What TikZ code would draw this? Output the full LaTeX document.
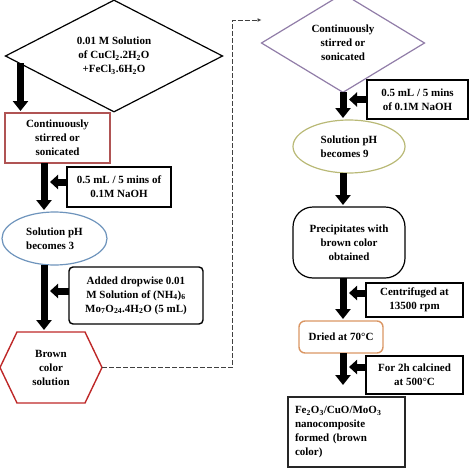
\documentclass[tikz,border=0pt]{standalone}
\usepackage{fontspec}
\setmainfont{Liberation Serif}
\usepackage{tikz}
\usetikzlibrary{shapes,shapes.geometric,arrows.meta,calc,positioning}
\usepackage{xcolor}
\definecolor{brickline}{RGB}{176,84,84}
\definecolor{steelline}{RGB}{110,148,188}
\definecolor{hexred}{RGB}{190,40,40}
\definecolor{lilacline}{RGB}{145,125,168}
\definecolor{khakiline}{RGB}{185,185,118}
\definecolor{orangeline}{RGB}{218,150,100}

\begin{document}
\begin{tikzpicture}[x=1pt,y=-1pt,
	  every node/.style={align=center,font=\bfseries\fontsize{11}{14}\selectfont,inner sep=0pt,outer sep=0pt},
	  source/.style={diamond,draw=black,line width=1.2pt,minimum width=217pt,minimum height=102pt},
	  stirbox/.style={rectangle,draw=brickline,line width=1.2pt,minimum width=105pt,minimum height=50pt},
	  reagent/.style={rectangle,draw=black,line width=1.4pt},
	  phoval/.style={ellipse,line width=1.2pt,align=left,minimum width=105pt,minimum height=53pt},
	  hexnode/.style={minimum width=102pt,minimum height=71pt},
	  hexline/.style={draw=hexred,line width=1.4pt},
	  precipbox/.style={rectangle,rounded corners=20pt,draw=black,line width=1.2pt,minimum width=112pt,minimum height=71pt},
	  driedbox/.style={rectangle,rounded corners=6pt,draw=orangeline,line width=1.4pt,minimum width=84pt,minimum height=32pt},
	  productbox/.style={rectangle,draw=black!85,line width=1.4pt,align=left,text width=103pt,inner xsep=7pt,minimum height=70pt},
	  fat/.style={line width=7pt,-{Triangle[length=10pt,width=15pt]},shorten >=2pt},
	  side/.style={line width=7pt,-{Triangle[length=8pt,width=14pt]}},
	  dashto/.style={draw=black!75,line width=0.8pt,dash pattern=on 5pt off 2pt,-{Latex[length=4pt,width=4pt]}}]

	  \useasboundingbox (0,0) rectangle (474,474);
	  \clip (0,0) rectangle (474,474);

	  % Position the nodes at the places of the two columns
	  \node[source] (src) at (114,56) {0.01 M Solution\\of CuCl\textsubscript{2}.2H\textsubscript{2}O\\+FeCl\textsubscript{3}.6H\textsubscript{2}O};
	  \node[stirbox] (stir) at (57.5,138) {Continuously\\stirred or\\sonicated};
	  \node[reagent,minimum width=104pt,minimum height=40pt] (naoh) at (119,187) {0.5 mL / 5 mins of\\0.1M NaOH};
	  \node[phoval,draw=steelline] (phthree) at (54.5,238.5) {Solution pH\\becomes 3};
	  \node[reagent,rounded corners=4pt,minimum width=134pt,minimum height=57pt] (molyb) at (136,295.5) {Added dropwise 0.01\\M Solution of (NH\textsubscript{4})\textsubscript{6}\\Mo\textsubscript{7}O\textsubscript{24}.4H\textsubscript{2}O (5 mL)};
	  \node[hexnode] (brown) at (51,367.5) {Brown\\color\\solution};
	  \draw[hexline] (brown.west) -- ([xshift=17pt]brown.north west) -- ([xshift=-17pt]brown.north east) -- (brown.east) -- ([xshift=-17pt]brown.south east) -- ([xshift=17pt]brown.south west) -- cycle;

	  \node[source,draw=lilacline,minimum width=163pt,minimum height=98pt] (stirtwo) at (343,43) {Continuously\\stirred or\\sonicated};
	  \node[reagent,minimum width=101pt,minimum height=39pt] (naohtwo) at (417.5,99.5) {0.5 mL / 5 mins\\of 0.1M NaOH};
	  \node[phoval,draw=khakiline,minimum width=112pt] (phnine) at (349,146.5) {Solution pH\\becomes 9};
	  \node[precipbox] (precip) at (349,242.5) {Precipitates with\\brown color\\obtained};
	  \node[reagent,minimum width=97pt,minimum height=34pt] (centri) at (414.5,300) {Centrifuged at\\13500 rpm};
	  \node[driedbox] (dried) at (341,337) {Dried at 70°C};
	  \node[reagent,minimum width=97pt,minimum height=38pt] (calcine) at (414.5,375) {For 2h calcined\\at 500°C};
	  \node[productbox] (product) at (346.5,432) {Fe\textsubscript{2}O\textsubscript{3}/CuO/MoO\textsubscript{3}\\nanocomposite\\formed (brown\\color)};

	  \coordinate (srcfoot) at (20.5,63);
	  \coordinate (colL) at (44,0);
	  \coordinate (tipL) at (50,0);
	  \coordinate (colR) at (343,0);
	  \coordinate (tipR) at (349,0);
	  \coordinate (bend) at (232,20);

	  \draw[fat] (srcfoot) -- (stir.north -| srcfoot);
	  \draw[fat] (stir.south -| colL) -- (phthree.north -| colL);
	  \draw[fat] (phthree.south -| colL) -- (brown.north -| colL);
	  \draw[side] ([yshift=5pt]naoh.west) -- ([yshift=5pt]naoh.west -| tipL);
	  \draw[side] ([yshift=4.5pt]molyb.west) -- ([yshift=4.5pt]molyb.west -| tipL);

	  \draw[dashto] (brown.east) -| (bend) -- (stirtwo.west |- bend);

	  \draw[fat] (stirtwo.south -| colR) -- (phnine.north -| colR);
	  \draw[fat] (phnine.south -| colR) -- (precip.north -| colR);
	  \draw[fat] (precip.south -| colR) -- (dried.north -| colR);
	  \draw[fat,shorten >=12pt] (dried.south -| colR) -- (product.north -| colR);
	  \draw[side] (naohtwo.west) -- (naohtwo.west -| tipR);
	  \draw[side] ([yshift=7pt]centri.west) -- ([yshift=7pt]centri.west -| tipR);
	  \draw[side] ([yshift=8pt]calcine.west) -- ([yshift=8pt]calcine.west -| tipR);
\end{tikzpicture}
\end{document}
